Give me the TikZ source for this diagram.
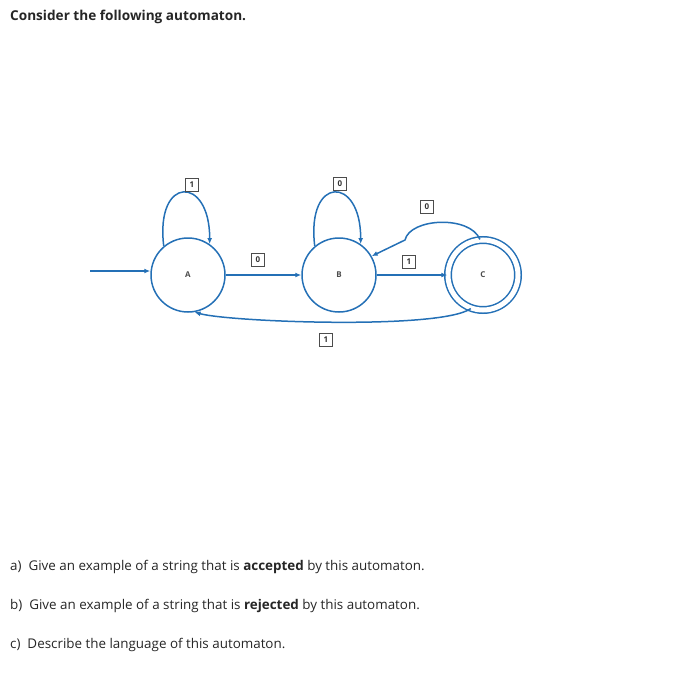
\documentclass[tikz,border=0pt]{standalone}
\usepackage{fontspec}
\setmainfont{Open Sans}
\usetikzlibrary{arrows.meta}
\definecolor{ab}{RGB}{36,112,182}
\begin{document}
\begin{tikzpicture}[x=1pt,y=-1pt,
  st/.style={circle,draw=ab,line width=1.5pt,minimum size=74pt,inner sep=0pt,font=\fontsize{8}{9}\selectfont\bfseries,text=black!70},
  lb/.style={draw=black!70,line width=0.6pt,inner sep=0pt,minimum size=13pt,font=\fontsize{8}{9}\selectfont\bfseries,text=black!80},
  ed/.style={draw=ab,line width=1.5pt,-{Latex[length=6pt,width=5pt]}},
  tx/.style={anchor=west,inner sep=0pt,font=\fontsize{13.4}{15}\selectfont,text=black!85}]
\useasboundingbox (0,0) rectangle (700,695);
\node[tx,font=\fontsize{13.6}{15}\selectfont\bfseries] (title) at (10,17) {Consider the following automaton.};
\node[st] (A) at (188,275) {A};
\node[st] (B) at (339,275) {B};
\node[st,double=white,double distance=5pt,minimum size=70pt] (C) at (483,275) {C};
\coordinate (s) at (90,271);
\draw[ed] (s) -- (A.west|-s);
\draw[ed] (A.east) -- (B.west);
\draw[ed] (B.east) -- (C.west);
\draw[ed] (A.130) .. controls (155,175) and (210,175) .. (A.55);
\draw[ed] (B.130) .. controls (306,175) and (361,175) .. (B.55);
\draw[ed] (C.95) .. controls (470,215) and (410,218) .. (405,240) -- (B.30);
\draw[ed] (C.250) .. controls (440,330) and (230,322) .. (A.-80);
\node[lb] (l1) at (192,185) {1};
\node[lb] (l2) at (258,260) {0};
\node[lb] (l3) at (340,184) {0};
\node[lb] (l4) at (427,207) {0};
\node[lb] (l5) at (409,262) {1};
\node[lb] (l6) at (326,340) {1};
\node[tx] (qa) at (10,567) {a)\ \ Give an example of a string that is \textbf{accepted} by this automaton.};
\node[tx] (qb) at (10,606) {b)\ \ Give an example of a string that is \textbf{rejected} by this automaton.};
\node[tx] (qc) at (10,645) {c)\ \ Describe the language of this automaton.};
\end{tikzpicture}
\end{document}
